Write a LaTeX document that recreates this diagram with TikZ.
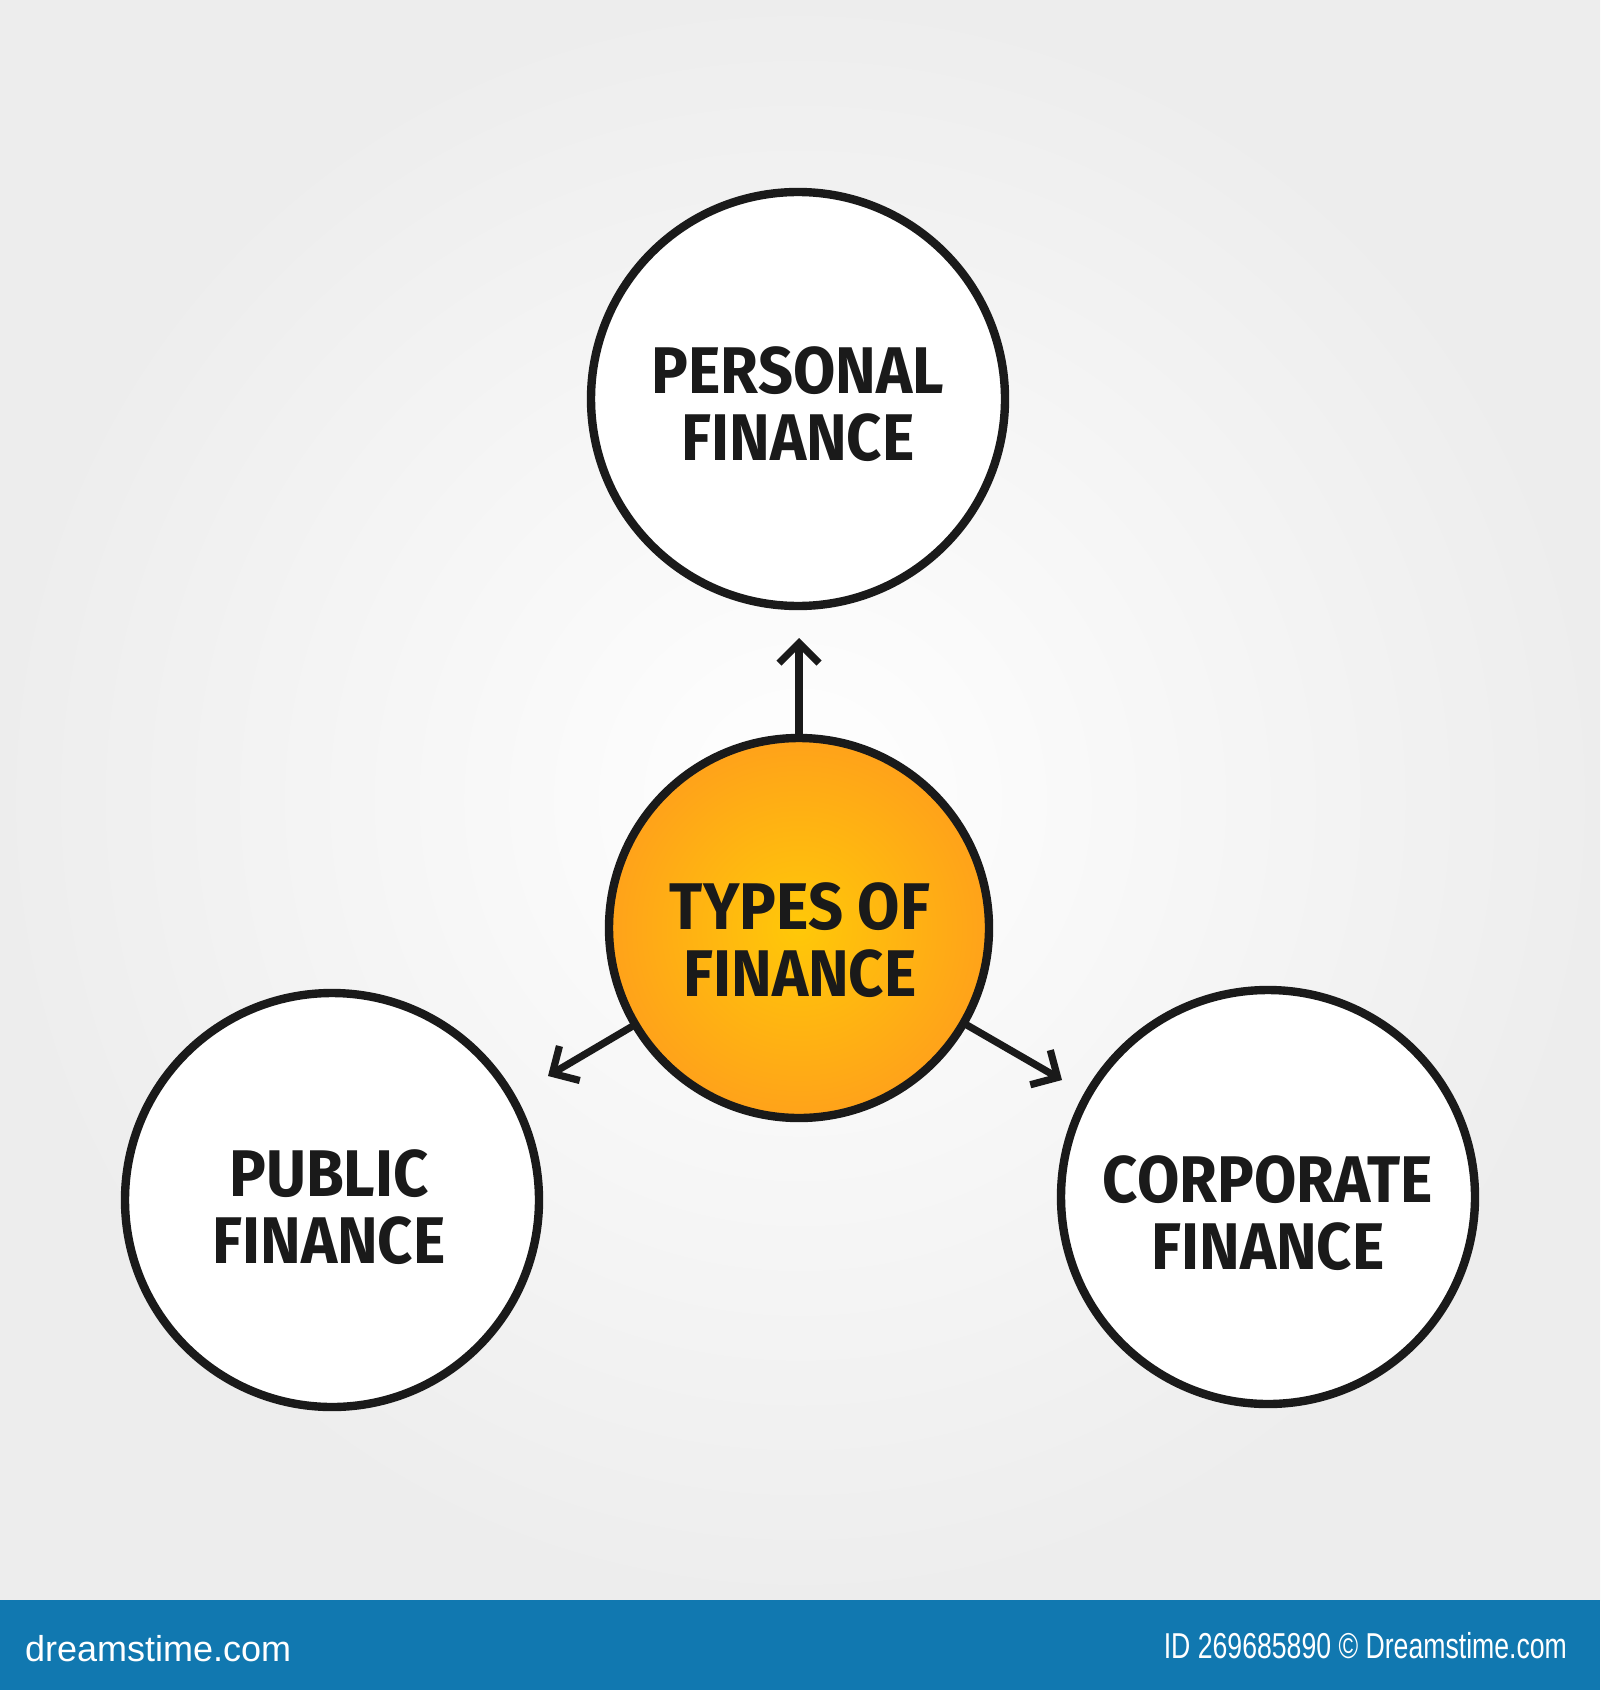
\documentclass[tikz,border=0pt]{standalone}
\usepackage{fontspec}
\setmainfont{Fira Sans}
\newfontfamily\lblfont[FakeStretch=0.93]{Fira Sans}
\newfontfamily\bannerfont[FakeStretch=0.74]{Liberation Sans}
\newfontfamily\brandfont{Liberation Sans}
\usetikzlibrary{arrows.meta}
\definecolor{banner}{HTML}{1178B0}
\definecolor{orIn}{HTML}{FFC808}
\definecolor{orOut}{HTML}{FFA21A}
\definecolor{ink}{HTML}{1A1A1A}
\tikzset{
  ring/.style={circle, draw=ink, line width=4.2pt, minimum size=207pt, inner sep=0pt, fill=white},
  hub/.style={circle, draw=ink, line width=4.2pt, minimum size=190pt, inner sep=0pt, inner color=orIn, outer color=orOut},
  lbl/.style={text=ink, font=\lblfont\fontsize{33}{33.5}\selectfont\bfseries, align=center},
  arr/.style={draw=ink, line width=3.6pt, line cap=round, -{Straight Barb[length=10pt,width=20pt,line width=3.6pt]}},
  bantext/.style={text=white, font=\bannerfont\fontsize{18}{20}\selectfont},
  brandtext/.style={text=white, font=\brandfont\fontsize{18}{20}\selectfont}
}
\begin{document}
\begin{tikzpicture}[x=0.5pt,y=-0.5pt]
  \useasboundingbox (0,0) rectangle (1600,1690);
  \shade[inner color=white, outer color=gray!14] (0,0) rectangle (1600,1600);
  \fill[banner] (0,1600) rectangle (1600,1690);
  \node[brandtext, anchor=west] (brand) at (18,1649) {dreamstime.com};
  \node[bantext, anchor=east] (id) at (1574,1646) {ID 269685890 \textcopyright{} Dreamstime.com};

  \node[ring] (personal) at (798,399) {};
  \node[ring] (public) at (332,1200) {};
  \node[ring] (corporate) at (1268,1197) {};
  \node[hub] (hub) at (799,928) {};

  \node[lbl] (tp) at (798,404) {PERSONAL\\FINANCE};
  \node[lbl] (tc) at (800,940) {TYPES OF\\FINANCE};
  \node[lbl] (tl) at (329,1207) {PUBLIC\\FINANCE};
  \node[lbl] (tr) at (1268,1213) {CORPORATE\\FINANCE};

  \coordinate (ap) at (799,638);
  \coordinate (al) at (548,1076);
  \coordinate (ar) at (1062,1080);
  \draw[arr] (hub) -- (ap);
  \draw[arr] (hub) -- (al);
  \draw[arr] (hub) -- (ar);
\end{tikzpicture}
\end{document}
